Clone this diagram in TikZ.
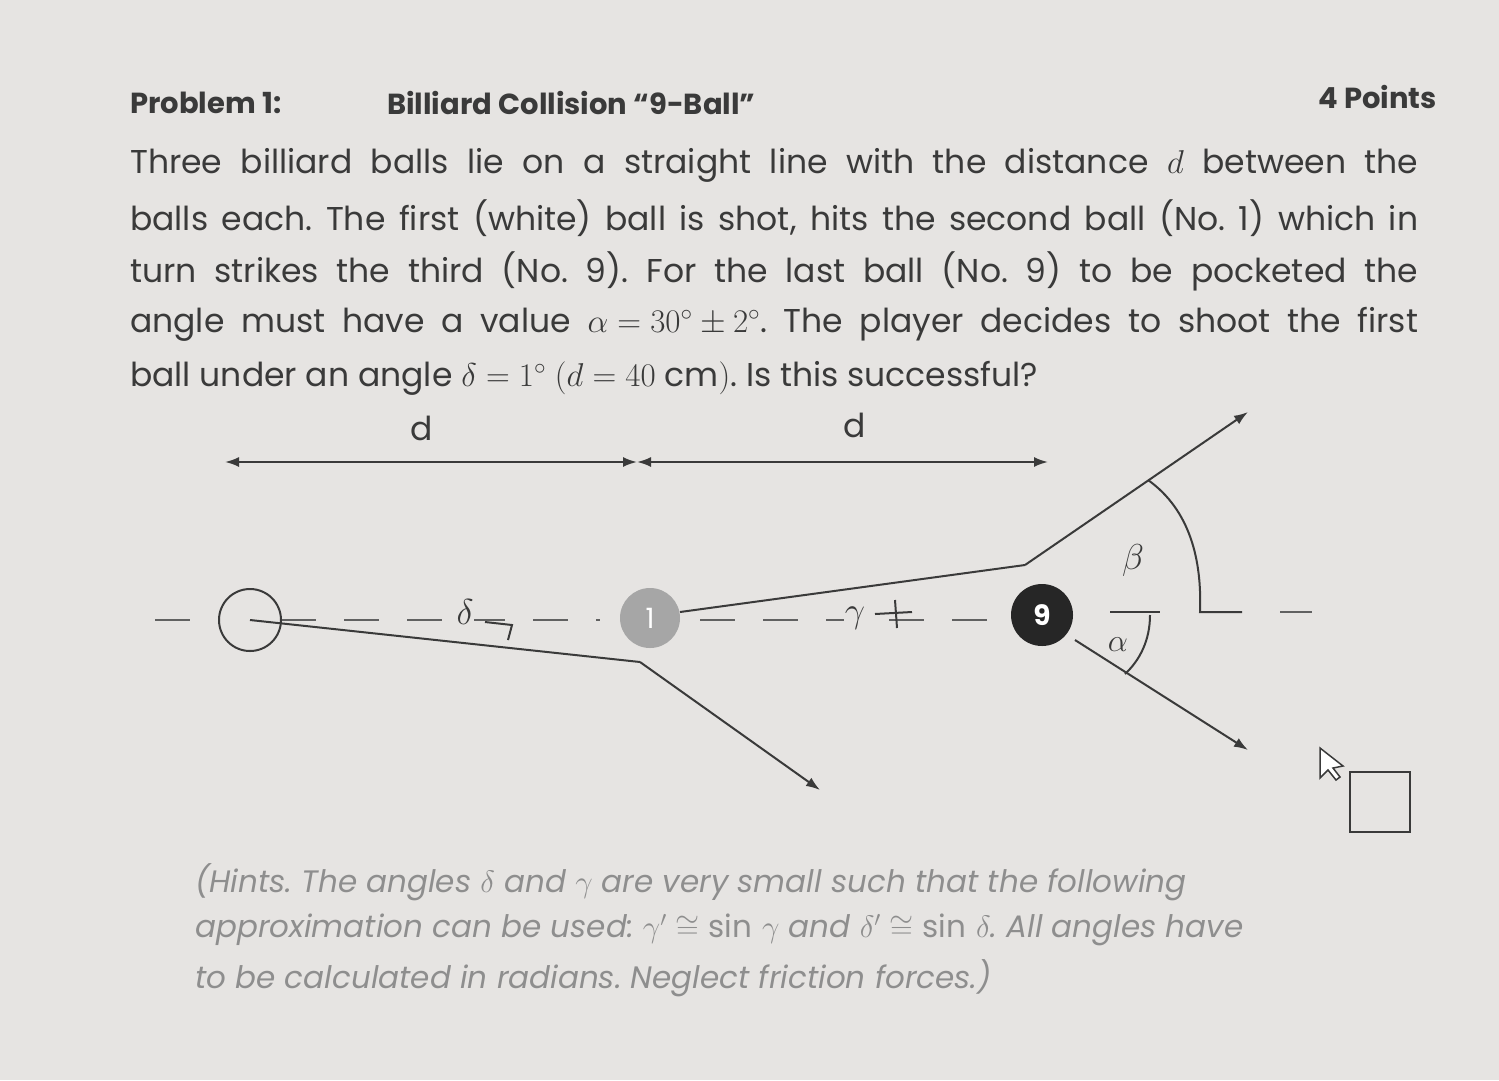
\RequirePackage{fix-cm}
\documentclass[tikz,border=0pt]{standalone}
\usepackage{fontspec}
\setmainfont{Poppins}
\usetikzlibrary{arrows.meta}
\definecolor{bg}{HTML}{E6E4E2}
\definecolor{ink}{HTML}{3A3A3A}
\definecolor{hint}{HTML}{8E8E8E}
\newcommand{\mm}[1]{${#1}$}
\newcommand{\jl}[1]{\makebox[1288pt][s]{#1}}
\frenchspacing
\tikzset{ln/.style={draw=ink,line width=2pt},arr/.style={ln,-{Latex[length=14pt,width=10pt]}},
 body/.style={anchor=west,font=\fontsize{33}{40}\selectfont\frenchspacing,text=ink,inner sep=0},
 hintt/.style={anchor=west,font=\fontsize{31}{40}\selectfont\itshape\frenchspacing,text=hint,inner sep=0},
 glab/.style={text=ink,font=\fontsize{36}{38}\selectfont}}
\begin{document}
\begin{tikzpicture}[x=1pt,y=-1pt]
\fill[bg] (0,0) rectangle (1499,1080);
\useasboundingbox (0,0) rectangle (1499,1080);
\node[body,font=\fontsize{29}{40}\selectfont\bfseries] (p1) at (130,103) {Problem 1:};
\node[body,font=\fontsize{29}{40}\selectfont\bfseries] (p2) at (387,103) {Billiard Collision “9-Ball”};
\node[body,anchor=east,font=\fontsize{29}{40}\selectfont\bfseries] (p3) at (1437,97) {4 Points};
\node[body] (l1) at (130,165) {\jl{Three billiard balls lie on a straight line with the distance \mm{d} between the}};
\node[body] (l2) at (130,218) {\jl{balls each. The first (white) ball is shot, hits the second ball (No. 1) which in}};
\node[body] (l3) at (130,271) {\jl{turn strikes the third (No. 9). For the last ball (No. 9) to be pocketed the}};
\node[body] (l4) at (130,324) {\jl{angle must have a value \mm{\alpha=30^\circ\pm2^\circ}. The player decides to shoot the first}};
\node[body] (l5) at (130,378) {ball under an angle \mm{\delta=1^\circ} \mm{(d=40\ \mathrm{cm})}. Is this successful?};
% d arrows
\node[body,anchor=center] (d1) at (422,428) {d};
\node[body,anchor=center] (d2) at (855,425) {d};
\coordinate (a0) at (225,462); \coordinate (am) at (637,462); \coordinate (a1) at (1048,462);
\draw[arr,{Latex[length=14pt,width=10pt]}-{Latex[length=14pt,width=10pt]}] (a0) -- (am);
\draw[arr,{Latex[length=14pt,width=10pt]}-{Latex[length=14pt,width=10pt]}] (am) -- (a1);
% centre line
\draw[ink!80,line width=2pt,dash pattern=on 35pt off 28pt] (155,620) -- (600,620);
\draw[ink!80,line width=2pt,dash pattern=on 35pt off 28pt] (700,620) -- (990,620);
\draw[ink!80,line width=2pt] (1280,612) -- (1312,612);
% balls
\node[circle,draw=ink,line width=2pt,minimum size=62pt,fill=bg] (w) at (250,620) {};
\node[circle,fill=gray!70,minimum size=60pt,text=white,font=\fontsize{28}{30}\selectfont] (b1) at (650,618) {1};
\node[circle,fill=black!85,minimum size=62pt,text=white,font=\fontsize{28}{30}\selectfont\bfseries] (b9) at (1042,615) {9};
% paths
\coordinate (k1) at (640,662); \coordinate (e1) at (820,790);
\draw[ln] (w.center) -- (k1); \draw[arr] (k1) -- (e1);
\coordinate (s2) at (680,612); \coordinate (k2) at (1025,565); \coordinate (e2) at (1248,412);
\draw[ln] (s2) -- (k2); \draw[arr] (k2) -- (e2);
\coordinate (s3) at (1075,640); \coordinate (e3) at (1248,750);
\draw[arr] (s3) -- (e3);
% angle labels
\node[glab,fill=bg,inner sep=1pt] (dl) at (465,612) {$\delta$};
\draw[ln] (485,622) -- (512,625) -- (508,640);
\node[glab,fill=bg,inner sep=1pt] (gl) at (855,618) {$\gamma$};
\draw[ln] (875,614) -- (912,612); \draw[ln] (895,600) -- (897,628);
\node[glab] (bl) at (1133,560) {$\beta$};
\node[glab,font=\fontsize{32}{34}\selectfont] (al) at (1118,645) {$\alpha$};
\draw[ln] (1110,612) -- (1160,612);
\draw[ln] (1148,480) .. controls (1190,510) and (1202,560) .. (1200,612) -- (1242,612);
\draw[ln] (1150,615) .. controls (1150,640) and (1140,660) .. (1125,674);
% cursor and box
\draw[ink,line width=1.5pt,fill=white] (1320,748) -- (1320,778) -- (1328,770) -- (1336,780) -- (1340,777) -- (1333,768) -- (1343,766) -- cycle;
\draw[ink,line width=2.5pt] (1350,772) rectangle (1410,832);
% hints
\node[hintt] (h1) at (195,882) {(Hints. The angles \mm{\delta} and \mm{\gamma} are very small such that the following};
\node[hintt] (h2) at (195,930) {approximation can be used: \mm{\gamma'\cong\sin\,\gamma} and \mm{\delta'\cong\sin\,\delta}. All angles have};
\node[hintt] (h3) at (195,978) {to be calculated in radians. Neglect friction forces.)};
\end{tikzpicture}
\end{document}
